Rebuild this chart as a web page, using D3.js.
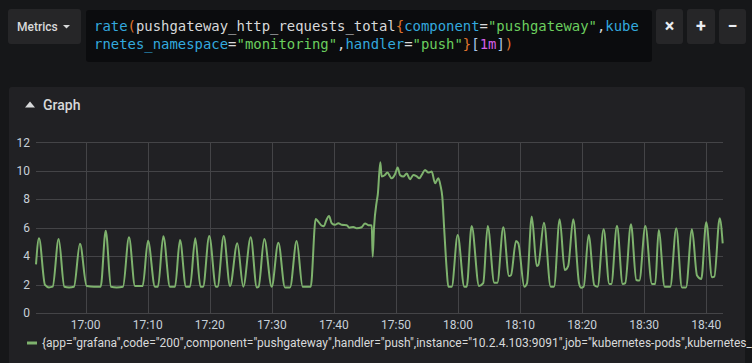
<!DOCTYPE html>
<html>
<head>
<meta charset="utf-8">
<script src="https://cdn.jsdelivr.net/npm/d3@7"></script>
<style>
  html, body { margin: 0; padding: 0; background: #161719; }
  svg { display: block; }
  .tick-label { font-family: Roboto, sans-serif; font-size: 12px; fill: #c7d0d9; }
  .mono { font-family: "DejaVu Sans Mono", monospace; font-size: 13.7px; }
</style>
</head>
<body>
<svg id="chart" width="752" height="363"></svg>
<script>
// sample times and rate values
const times = [
  "16:52:00", "16:52:29", "16:53:27", "16:54:05", "16:54:41", "16:55:39", "16:56:34", "16:57:20",
  "16:58:07", "16:59:05", "17:00:10", "17:01:20", "17:02:25", "17:03:14", "17:04:05", "17:05:00",
  "17:06:01", "17:06:59", "17:07:57", "17:09:11", "17:10:03", "17:11:10", "17:11:39", "17:12:31",
  "17:13:35", "17:14:24", "17:15:12", "17:16:10", "17:16:49", "17:17:40", "17:18:30", "17:18:55",
  "17:19:55", "17:21:00", "17:21:15", "17:22:15", "17:23:16", "17:24:26", "17:25:24", "17:26:36",
  "17:27:35", "17:27:52", "17:28:47", "17:29:59", "17:31:03", "17:32:07", "17:32:56", "17:34:00",
  "17:34:58", "17:35:40", "17:36:16", "17:37:04", "17:37:29", "17:38:02", "17:38:24", "17:38:44",
  "17:39:13", "17:39:39", "17:40:11", "17:40:43", "17:41:16", "17:42:04", "17:42:29", "17:43:08",
  "17:43:41", "17:44:29", "17:45:01", "17:45:33", "17:46:06", "17:46:15", "17:46:28", "17:46:54",
  "17:47:04", "17:47:29", "17:47:42", "17:48:14", "17:48:36", "17:49:19", "17:49:51", "17:50:17",
  "17:50:39", "17:51:11", "17:51:44", "17:52:16", "17:52:48", "17:53:21", "17:53:46", "17:54:09",
  "17:54:41", "17:55:13", "17:55:46", "17:56:18", "17:56:50", "17:57:13", "17:57:28", "17:57:47",
  "17:58:11", "17:58:26", "17:58:59", "17:59:57", "18:01:01", "18:01:24", "18:02:12", "18:03:23",
  "18:04:04", "18:04:47", "18:05:51", "18:06:20", "18:07:18", "18:08:13", "18:08:32", "18:09:21",
  "18:09:43", "18:10:41", "18:11:07", "18:11:53", "18:12:41", "18:12:57", "18:13:51", "18:14:56",
  "18:15:28", "18:16:23", "18:17:12", "18:17:45", "18:18:34", "18:19:30", "18:19:49", "18:20:15",
  "18:21:03", "18:21:58", "18:22:30", "18:23:28", "18:24:23", "18:24:42", "18:25:37", "18:26:32",
  "18:26:57", "18:27:52", "18:28:44", "18:29:13", "18:30:11", "18:31:15", "18:31:47", "18:32:20",
  "18:33:18", "18:34:12", "18:35:10", "18:36:05", "18:36:44", "18:37:42", "18:38:31", "18:39:12",
  "18:40:00", "18:40:56", "18:41:18", "18:42:10", "18:42:39"
];
const values = [
  3.42, 5.25, 1.97, 1.80, 1.85, 5.20, 1.85, 1.80,
  1.85, 4.87, 1.90, 1.85, 1.85, 5.79, 1.85, 1.80,
  1.85, 5.32, 1.90, 1.90, 5.08, 1.85, 1.85, 5.39,
  1.85, 1.85, 5.13, 1.85, 1.85, 5.25, 1.85, 1.85,
  5.41, 1.85, 1.85, 5.41, 1.90, 4.90, 1.85, 5.32,
  1.80, 1.85, 5.20, 1.85, 4.94, 1.80, 1.80, 5.06,
  1.85, 1.85, 1.85, 6.61, 6.42, 6.14, 6.10, 6.47,
  6.82, 6.31, 6.20, 6.31, 6.20, 6.17, 6.00, 6.05,
  5.96, 6.03, 6.30, 6.17, 6.15, 3.96, 6.00, 7.83,
  8.30, 10.60, 9.59, 9.70, 9.87, 9.47, 9.75, 10.22,
  9.70, 9.59, 9.80, 9.40, 9.70, 9.60, 9.47, 9.70,
  10.06, 9.87, 9.94, 9.12, 9.47, 8.88, 8.18, 5.84,
  3.02, 1.85, 1.85, 5.49, 1.85, 1.85, 6.12, 1.90,
  2.10, 6.12, 2.13, 2.13, 6.02, 2.60, 2.65, 5.06,
  4.90, 1.85, 2.09, 6.78, 3.30, 3.38, 6.35, 1.85,
  1.85, 6.59, 3.02, 3.30, 6.59, 2.10, 1.78, 1.85,
  5.49, 1.95, 1.85, 5.88, 2.04, 2.04, 6.14, 2.04,
  2.10, 6.24, 2.32, 2.28, 6.12, 2.04, 2.04, 5.84,
  1.85, 1.85, 5.95, 1.80, 1.80, 5.88, 2.63, 2.39,
  6.38, 2.51, 2.55, 6.66, 4.90
];
const yTicks = [0, 2, 4, 6, 8, 10, 12];
const xTickLabels = ["17:00", "17:10", "17:20", "17:30", "17:40", "17:50", "18:00", "18:10", "18:20", "18:30", "18:40"];
const timeDomain = ["16:52:00", "18:42:42"];
// legend label as far as the panel shows it
const seriesName = '{app="grafana",code="200",component="pushgateway",handler="push",instance="10.2.4.103:9091",job="kubernetes-pods",kubernetes_';

// query editor tokens: [text, colour]
const queryLine1 = [
  ["rate", "#33a9de"], ["(", "#e0752d"], ["pushgateway_http_requests_total", "#d8d9da"],
  ["{", "#e0752d"], ["component", "#33a9de"], ["=", "#d8d9da"], ["\"pushgateway\"", "#6ccf5f"],
  [",", "#d8d9da"], ["kube", "#33a9de"]
];
const queryLine2 = [
  ["rnetes_namespace", "#33a9de"], ["=", "#d8d9da"], ["\"monitoring\"", "#6ccf5f"], [",", "#d8d9da"],
  ["handler", "#33a9de"], ["=", "#d8d9da"], ["\"push\"", "#6ccf5f"], ["}", "#e0752d"],
  ["[", "#a9c6e8"], ["1m", "#d45fe6"], ["]", "#a9c6e8"], [")", "#e0752d"]
];

const parse = d3.timeParse("%H:%M:%S");
const data = times.map((t, i) => ({ t: parse(t), v: values[i] }));

const svg = d3.select("svg#chart");

// --- top query row ---
svg.append("rect").attr("x", 8).attr("y", 9).attr("width", 73).attr("height", 35)
  .attr("rx", 3).attr("fill", "#262628");
svg.append("text").attr("x", 17).attr("y", 31)
  .style("font-family", "Roboto, sans-serif").style("font-size", "12px").style("font-weight", 500)
  .attr("fill", "#d8d9da").text("Metrics");
svg.append("path").attr("d", "M63,25 L70,25 L66.5,28.5 Z").attr("fill", "#d8d9da");

svg.append("rect").attr("x", 86).attr("y", 10).attr("width", 566).attr("height", 52)
  .attr("rx", 3).attr("fill", "#0b0c0e");

function queryLine(tokens, y) {
  const t = svg.append("text").attr("class", "mono").attr("x", 94).attr("y", y);
  tokens.forEach(([s, c]) => t.append("tspan").attr("fill", c).text(s));
  return t;
}
const q1 = queryLine(queryLine1, 31);
const q2 = queryLine(queryLine2, 49);
// editor wraps at 66 columns spanning ~545px
const fit = 13.7 * 545 / q1.node().getComputedTextLength();
q1.style("font-size", fit + "px");
q2.style("font-size", fit + "px");

const buttons = [["×", 656, 27], ["+", 687, 28], ["−", 719, 27]];
buttons.forEach(([s, x, w]) => {
  svg.append("rect").attr("x", x).attr("y", 9).attr("width", w).attr("height", 35)
    .attr("rx", 3).attr("fill", "#262628");
  svg.append("text").attr("x", x + w / 2).attr("y", 32).attr("text-anchor", "middle")
    .style("font-family", "Roboto, sans-serif").style("font-size", "18px")
    .style("font-weight", 700).attr("fill", "#e9edf2").text(s);
});

// --- graph panel ---
svg.append("rect").attr("x", 9).attr("y", 87).attr("width", 736).attr("height", 290)
  .attr("rx", 3).attr("fill", "#212124");
svg.append("path").attr("d", "M25,107.5 L35,107.5 L30,101.5 Z").attr("fill", "#d8d9da");
svg.append("text").attr("x", 43).attr("y", 110)
  .style("font-family", "Roboto, sans-serif").style("font-size", "14px").style("font-weight", 500)
  .attr("fill", "#d8d9da").text("Graph");

const x = d3.scaleTime().domain(timeDomain.map(parse)).range([36, 723]);
const y = d3.scaleLinear().domain([0, 12]).range([313, 142.3]);

const g = svg.append("g");

// grid
g.selectAll(".hgrid").data(yTicks).enter().append("line")
  .attr("x1", x.range()[0]).attr("x2", x.range()[1])
  .attr("y1", (d) => Math.round(y(d)) + 0.5).attr("y2", (d) => Math.round(y(d)) + 0.5)
  .attr("stroke", "#444447").attr("stroke-width", 1);

const xTicks = xTickLabels.map((s) => parse(s + ":00"));
g.selectAll(".vgrid").data(xTicks).enter().append("line")
  .attr("x1", (d) => Math.round(x(d)) + 0.5).attr("x2", (d) => Math.round(x(d)) + 0.5)
  .attr("y1", y(12)).attr("y2", y(0))
  .attr("stroke", "#444447").attr("stroke-width", 1);

// axis labels
g.selectAll(".ylabel").data(yTicks).enter().append("text")
  .attr("class", "tick-label").attr("text-anchor", "end")
  .attr("x", 30).attr("y", (d) => y(d)).attr("dy", "0.35em").text((d) => d);

g.selectAll(".xlabel").data(xTicks).enter().append("text")
  .attr("class", "tick-label").attr("text-anchor", "middle")
  .attr("x", (d) => x(d)).attr("y", 329).text((d, i) => xTickLabels[i]);

// series
const line = d3.line().curve(d3.curveMonotoneX).x((d) => x(d.t)).y((d) => y(d.v));
g.append("path").datum(data)
  .attr("d", line)
  .attr("fill", "none")
  .attr("stroke", "#7eb26d")
  .attr("stroke-width", 2)
  .attr("stroke-linejoin", "round");

// legend
svg.append("line").attr("x1", 27).attr("x2", 37).attr("y1", 343).attr("y2", 343)
  .attr("stroke", "#7eb26d").attr("stroke-width", 3);
svg.append("text").attr("x", 42).attr("y", 347)
  .style("font-family", "Roboto, sans-serif").style("font-size", "12px")
  .attr("fill", "#d8d9da").text(seriesName);
</script>
</body>
</html>
